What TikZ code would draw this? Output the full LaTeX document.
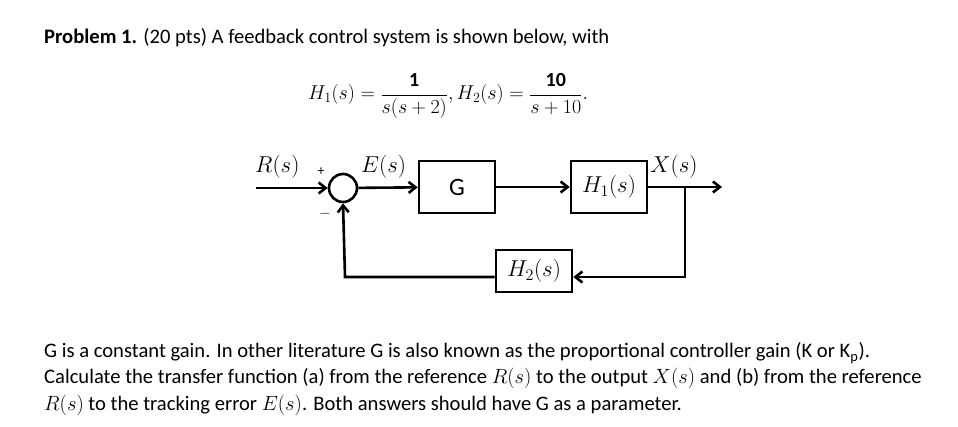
\RequirePackage{fix-cm}
\documentclass[tikz,border=0pt]{standalone}
\usepackage{amsmath}
\usepackage{fontspec}
\setmainfont{Carlito}
\usetikzlibrary{arrows.meta}
\begin{document}
\begin{tikzpicture}[x=1pt,y=-1pt,
  blk/.style={draw,line width=2.6pt,inner sep=0pt,minimum width=76pt,minimum height=52pt},
  ln/.style={line width=2.6pt},
  ar/.style={ln,-{Straight Barb[length=7pt,width=11pt]}},
  txt/.style={anchor=west,inner sep=0pt,font=\fontsize{20.6}{24}\selectfont}]
\useasboundingbox (0,0) rectangle (958,427);
\node[txt,anchor=base west] (t1) at (44,44) {\textbf{Problem 1.} (20 pts) A feedback control system is shown below, with};
\node[anchor=base,inner sep=0pt,font=\fontsize{20}{23}\selectfont] (eq) at (448,100) {$H_1(s)=\dfrac{\mathbf{1}}{s(s+2)},H_2(s)=\dfrac{\mathbf{10}}{s+10}.$};
\node[circle,draw,line width=2.6pt,minimum size=28pt,inner sep=0pt] (sum) at (343,188) {};
\node[blk] (G) at (457,187) {\fontsize{25}{28}\selectfont G};
\node[blk] (H1) at (609,187) {\fontsize{23}{26}\selectfont$H_1(s)$};
\node[blk,minimum height=42pt] (H2) at (534,271) {\fontsize{23}{26}\selectfont$H_2(s)$};
\coordinate (in) at (256,188);
\coordinate (out) at (722,187);
\coordinate (br) at (685,187);
\coordinate (bl) at (345,277);
\coordinate (brd) at (685,277);
\draw[ar] (in) -- (sum);
\draw[ar] (sum) -- (G);
\draw[ar] (G) -- (H1);
\draw[ar] (H1) -- (out);
\draw[ar] (br) -- (brd) -- (H2.east|-brd);
\draw[ar] (H2.west|-bl) -- (bl) -- (sum.south);
\node[anchor=base west,inner sep=0pt,font=\fontsize{23}{26}\selectfont] (R) at (255,173) {$R(s)$};
\node[anchor=base west,inner sep=0pt,font=\fontsize{23}{26}\selectfont] (E) at (361,173) {$E(s)$};
\node[anchor=base west,inner sep=0pt,font=\fontsize{23}{26}\selectfont] (X) at (650,173) {$X(s)$};
\node[inner sep=0pt,font=\fontsize{14}{14}\selectfont] (p) at (321,172) {+};
\node[inner sep=0pt,font=\fontsize{15}{15}\selectfont] (m) at (325,214) {$-$};
\node[txt,anchor=base west] (b1) at (44,358) {G is a constant gain. In other literature G is also known as the proportional controller gain (K or K\textsubscript{p}).};
\node[txt,anchor=base west] (b2) at (44,384) {Calculate the transfer function (a) from the reference $R(s)$ to the output $X(s)$ and (b) from the reference};
\node[txt,anchor=base west] (b3) at (44,410) {$R(s)$ to the tracking error $E(s)$. Both answers should have G as a parameter.};
\end{tikzpicture}
\end{document}
